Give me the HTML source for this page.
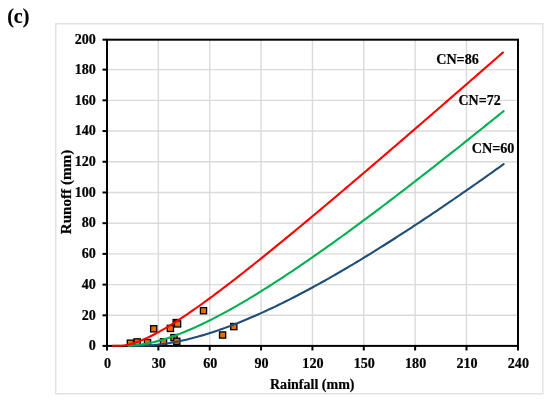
<!DOCTYPE html>
<html><head><meta charset="utf-8"><style>
html,body{margin:0;padding:0;background:#fff;}
body{width:550px;height:402px;overflow:hidden;}
svg{display:block;}
text{font-family:"Liberation Serif","Times New Roman",serif;font-weight:bold;fill:#000;stroke:#000;stroke-width:0.2px;}
</style></head><body>
<svg width="550" height="402" viewBox="0 0 550 402">
<rect x="0" y="0" width="550" height="402" fill="#fff"/>
<rect x="55.75" y="23.75" width="487" height="370" fill="none" stroke="#e2e2e2" stroke-width="1.5"/>
<text x="7.2" y="23.3" style="font-size:20px">(c)</text>
<g stroke="#dadada" stroke-width="1.4"><line x1="158.36" y1="39.8" x2="158.36" y2="345.8"/><line x1="209.71" y1="39.8" x2="209.71" y2="345.8"/><line x1="261.07" y1="39.8" x2="261.07" y2="345.8"/><line x1="312.43" y1="39.8" x2="312.43" y2="345.8"/><line x1="363.78" y1="39.8" x2="363.78" y2="345.8"/><line x1="415.14" y1="39.8" x2="415.14" y2="345.8"/><line x1="466.50" y1="39.8" x2="466.50" y2="345.8"/><line x1="107" y1="315.32" x2="518" y2="315.32"/><line x1="107" y1="284.61" x2="518" y2="284.61"/><line x1="107" y1="253.90" x2="518" y2="253.90"/><line x1="107" y1="223.18" x2="518" y2="223.18"/><line x1="107" y1="192.47" x2="518" y2="192.47"/><line x1="107" y1="161.76" x2="518" y2="161.76"/><line x1="107" y1="131.05" x2="518" y2="131.05"/><line x1="107" y1="100.34" x2="518" y2="100.34"/><line x1="107" y1="69.63" x2="518" y2="69.63"/></g>
<g stroke="#000" stroke-width="2"><line x1="107.00" y1="345.8" x2="107.00" y2="350.5"/><line x1="158.36" y1="345.8" x2="158.36" y2="350.5"/><line x1="209.71" y1="345.8" x2="209.71" y2="350.5"/><line x1="261.07" y1="345.8" x2="261.07" y2="350.5"/><line x1="312.43" y1="345.8" x2="312.43" y2="350.5"/><line x1="363.78" y1="345.8" x2="363.78" y2="350.5"/><line x1="415.14" y1="345.8" x2="415.14" y2="350.5"/><line x1="466.50" y1="345.8" x2="466.50" y2="350.5"/><line x1="518.00" y1="345.8" x2="518.00" y2="350.5"/><line x1="102.5" y1="345.90" x2="107" y2="345.90"/><line x1="102.5" y1="315.32" x2="107" y2="315.32"/><line x1="102.5" y1="284.61" x2="107" y2="284.61"/><line x1="102.5" y1="253.90" x2="107" y2="253.90"/><line x1="102.5" y1="223.18" x2="107" y2="223.18"/><line x1="102.5" y1="192.47" x2="107" y2="192.47"/><line x1="102.5" y1="161.76" x2="107" y2="161.76"/><line x1="102.5" y1="131.05" x2="107" y2="131.05"/><line x1="102.5" y1="100.34" x2="107" y2="100.34"/><line x1="102.5" y1="69.63" x2="107" y2="69.63"/><line x1="102.5" y1="39.70" x2="107" y2="39.70"/></g>
<rect x="107" y="39.7" width="411" height="306.2" fill="none" stroke="#000" stroke-width="2"/>
<g fill="#E46C0A" stroke="#000" stroke-width="1.3"><rect x="127.30" y="340.10" width="6.2" height="6.2"/><rect x="134.10" y="338.80" width="6.2" height="6.2"/><rect x="144.40" y="339.50" width="6.2" height="6.2"/><rect x="150.60" y="325.70" width="6.2" height="6.2"/><rect x="160.40" y="338.70" width="6.2" height="6.2"/><rect x="167.30" y="325.30" width="6.2" height="6.2"/><rect x="170.90" y="334.50" width="6.2" height="6.2"/><rect x="173.70" y="338.20" width="6.2" height="6.2"/><rect x="173.10" y="319.50" width="6.2" height="6.2"/><rect x="174.50" y="320.80" width="6.2" height="6.2"/><rect x="200.40" y="307.60" width="6.2" height="6.2"/><rect x="219.50" y="331.90" width="6.2" height="6.2"/><rect x="230.70" y="323.50" width="6.2" height="6.2"/></g>
<g fill="none" stroke-width="2.1" stroke-linejoin="round" stroke-linecap="round">
<path d="M128.24,345.80 L130.60,345.80 L132.96,345.80 L135.32,345.80 L137.68,345.80 L140.04,345.78 L142.40,345.73 L144.76,345.65 L147.12,345.54 L149.48,345.40 L151.84,345.22 L154.20,345.02 L156.57,344.78 L158.93,344.52 L161.29,344.23 L163.65,343.92 L166.01,343.57 L168.37,343.21 L170.73,342.81 L173.09,342.39 L175.45,341.95 L177.81,341.49 L180.17,341.00 L182.54,340.49 L184.90,339.95 L187.26,339.40 L189.62,338.82 L191.98,338.22 L194.34,337.60 L196.70,336.96 L199.06,336.31 L201.42,335.63 L203.78,334.93 L206.14,334.22 L208.50,333.49 L210.87,332.74 L213.23,331.97 L215.59,331.18 L217.95,330.38 L220.31,329.56 L222.67,328.73 L225.03,327.88 L227.39,327.01 L229.75,326.13 L232.11,325.24 L234.47,324.32 L236.84,323.40 L239.20,322.46 L241.56,321.51 L243.92,320.54 L246.28,319.56 L248.64,318.57 L251.00,317.56 L253.36,316.54 L255.72,315.51 L258.08,314.46 L260.44,313.41 L262.81,312.34 L265.17,311.26 L267.53,310.17 L269.89,309.06 L272.25,307.95 L274.61,306.83 L276.97,305.69 L279.33,304.54 L281.69,303.39 L284.05,302.22 L286.41,301.04 L288.77,299.86 L291.14,298.66 L293.50,297.45 L295.86,296.24 L298.22,295.01 L300.58,293.78 L302.94,292.53 L305.30,291.28 L307.66,290.02 L310.02,288.75 L312.38,287.47 L314.74,286.19 L317.11,284.89 L319.47,283.59 L321.83,282.28 L324.19,280.96 L326.55,279.64 L328.91,278.30 L331.27,276.96 L333.63,275.61 L335.99,274.25 L338.35,272.89 L340.71,271.52 L343.08,270.14 L345.44,268.76 L347.80,267.37 L350.16,265.97 L352.52,264.56 L354.88,263.15 L357.24,261.74 L359.60,260.31 L361.96,258.88 L364.32,257.45 L366.68,256.00 L369.04,254.55 L371.41,253.10 L373.77,251.64 L376.13,250.17 L378.49,248.70 L380.85,247.23 L383.21,245.74 L385.57,244.25 L387.93,242.76 L390.29,241.26 L392.65,239.76 L395.01,238.25 L397.38,236.73 L399.74,235.21 L402.10,233.69 L404.46,232.16 L406.82,230.62 L409.18,229.08 L411.54,227.54 L413.90,225.99 L416.26,224.44 L418.62,222.88 L420.98,221.32 L423.35,219.75 L425.71,218.18 L428.07,216.60 L430.43,215.02 L432.79,213.44 L435.15,211.85 L437.51,210.26 L439.87,208.66 L442.23,207.06 L444.59,205.46 L446.95,203.85 L449.31,202.23 L451.68,200.62 L454.04,199.00 L456.40,197.37 L458.76,195.75 L461.12,194.11 L463.48,192.48 L465.84,190.84 L468.20,189.20 L470.56,187.55 L472.92,185.90 L475.28,184.25 L477.65,182.59 L480.01,180.93 L482.37,179.27 L484.73,177.60 L487.09,175.93 L489.45,174.26 L491.81,172.59 L494.17,170.91 L496.53,169.22 L498.89,167.54 L501.25,165.85 L503.61,164.16" stroke="#1F4E79"/>
<path d="M128.24,345.75 L130.60,345.65 L132.96,345.50 L135.32,345.29 L137.68,345.03 L140.04,344.72 L142.40,344.37 L144.76,343.97 L147.12,343.53 L149.48,343.05 L151.84,342.53 L154.20,341.97 L156.57,341.37 L158.93,340.74 L161.29,340.07 L163.65,339.37 L166.01,338.64 L168.37,337.88 L170.73,337.09 L173.09,336.26 L175.45,335.41 L177.81,334.54 L180.17,333.63 L182.54,332.70 L184.90,331.75 L187.26,330.77 L189.62,329.77 L191.98,328.75 L194.34,327.70 L196.70,326.64 L199.06,325.55 L201.42,324.44 L203.78,323.32 L206.14,322.17 L208.50,321.01 L210.87,319.83 L213.23,318.63 L215.59,317.42 L217.95,316.19 L220.31,314.94 L222.67,313.68 L225.03,312.40 L227.39,311.11 L229.75,309.80 L232.11,308.49 L234.47,307.15 L236.84,305.81 L239.20,304.45 L241.56,303.07 L243.92,301.69 L246.28,300.29 L248.64,298.89 L251.00,297.47 L253.36,296.04 L255.72,294.60 L258.08,293.15 L260.44,291.68 L262.81,290.21 L265.17,288.73 L267.53,287.24 L269.89,285.74 L272.25,284.23 L274.61,282.71 L276.97,281.18 L279.33,279.65 L281.69,278.10 L284.05,276.55 L286.41,274.99 L288.77,273.42 L291.14,271.85 L293.50,270.26 L295.86,268.67 L298.22,267.07 L300.58,265.47 L302.94,263.86 L305.30,262.24 L307.66,260.61 L310.02,258.98 L312.38,257.34 L314.74,255.70 L317.11,254.05 L319.47,252.39 L321.83,250.73 L324.19,249.06 L326.55,247.38 L328.91,245.70 L331.27,244.02 L333.63,242.33 L335.99,240.63 L338.35,238.93 L340.71,237.23 L343.08,235.51 L345.44,233.80 L347.80,232.08 L350.16,230.35 L352.52,228.62 L354.88,226.89 L357.24,225.15 L359.60,223.41 L361.96,221.66 L364.32,219.91 L366.68,218.15 L369.04,216.39 L371.41,214.63 L373.77,212.86 L376.13,211.09 L378.49,209.31 L380.85,207.54 L383.21,205.75 L385.57,203.97 L387.93,202.18 L390.29,200.38 L392.65,198.59 L395.01,196.79 L397.38,194.98 L399.74,193.18 L402.10,191.36 L404.46,189.55 L406.82,187.74 L409.18,185.92 L411.54,184.09 L413.90,182.27 L416.26,180.44 L418.62,178.61 L420.98,176.77 L423.35,174.94 L425.71,173.10 L428.07,171.26 L430.43,169.41 L432.79,167.56 L435.15,165.71 L437.51,163.86 L439.87,162.00 L442.23,160.15 L444.59,158.29 L446.95,156.42 L449.31,154.56 L451.68,152.69 L454.04,150.82 L456.40,148.95 L458.76,147.08 L461.12,145.20 L463.48,143.32 L465.84,141.44 L468.20,139.56 L470.56,137.67 L472.92,135.78 L475.28,133.90 L477.65,132.00 L480.01,130.11 L482.37,128.22 L484.73,126.32 L487.09,124.42 L489.45,122.52 L491.81,120.62 L494.17,118.71 L496.53,116.81 L498.89,114.90 L501.25,112.99 L503.61,111.08" stroke="#00B050"/>
<path d="M112.82,345.80 L115.28,345.80 L117.73,345.80 L120.18,345.74 L122.64,345.53 L125.09,345.19 L127.54,344.73 L130.00,344.16 L132.45,343.50 L134.90,342.74 L137.36,341.90 L139.81,340.99 L142.26,340.01 L144.72,338.96 L147.17,337.85 L149.63,336.69 L152.08,335.48 L154.53,334.22 L156.99,332.92 L159.44,331.58 L161.89,330.20 L164.35,328.79 L166.80,327.34 L169.25,325.86 L171.71,324.35 L174.16,322.82 L176.61,321.26 L179.07,319.67 L181.52,318.06 L183.97,316.43 L186.43,314.78 L188.88,313.11 L191.33,311.42 L193.79,309.72 L196.24,308.00 L198.70,306.26 L201.15,304.51 L203.60,302.74 L206.06,300.96 L208.51,299.16 L210.96,297.36 L213.42,295.54 L215.87,293.71 L218.32,291.87 L220.78,290.02 L223.23,288.17 L225.68,286.30 L228.14,284.42 L230.59,282.53 L233.04,280.64 L235.50,278.74 L237.95,276.83 L240.40,274.91 L242.86,272.98 L245.31,271.05 L247.77,269.11 L250.22,267.17 L252.67,265.22 L255.13,263.26 L257.58,261.30 L260.03,259.34 L262.49,257.36 L264.94,255.39 L267.39,253.40 L269.85,251.42 L272.30,249.43 L274.75,247.43 L277.21,245.43 L279.66,243.43 L282.11,241.42 L284.57,239.41 L287.02,237.39 L289.47,235.37 L291.93,233.35 L294.38,231.32 L296.84,229.29 L299.29,227.26 L301.74,225.22 L304.20,223.18 L306.65,221.14 L309.10,219.10 L311.56,217.05 L314.01,215.00 L316.46,212.94 L318.92,210.89 L321.37,208.83 L323.82,206.77 L326.28,204.71 L328.73,202.64 L331.18,200.58 L333.64,198.51 L336.09,196.43 L338.55,194.36 L341.00,192.28 L343.45,190.21 L345.91,188.13 L348.36,186.05 L350.81,183.96 L353.27,181.88 L355.72,179.79 L358.17,177.70 L360.63,175.61 L363.08,173.52 L365.53,171.43 L367.99,169.33 L370.44,167.24 L372.89,165.14 L375.35,163.04 L377.80,160.94 L380.25,158.84 L382.71,156.73 L385.16,154.63 L387.62,152.52 L390.07,150.42 L392.52,148.31 L394.98,146.20 L397.43,144.09 L399.88,141.98 L402.34,139.86 L404.79,137.75 L407.24,135.63 L409.70,133.52 L412.15,131.40 L414.60,129.28 L417.06,127.16 L419.51,125.04 L421.96,122.92 L424.42,120.80 L426.87,118.68 L429.32,116.55 L431.78,114.43 L434.23,112.30 L436.69,110.18 L439.14,108.05 L441.59,105.92 L444.05,103.79 L446.50,101.66 L448.95,99.53 L451.41,97.40 L453.86,95.27 L456.31,93.14 L458.77,91.00 L461.22,88.87 L463.67,86.73 L466.13,84.60 L468.58,82.46 L471.03,80.32 L473.49,78.19 L475.94,76.05 L478.39,73.91 L480.85,71.77 L483.30,69.63 L485.76,67.49 L488.21,65.35 L490.66,63.21 L493.12,61.07 L495.57,58.92 L498.02,56.78 L500.48,54.64 L502.93,52.49" stroke="#FF0000"/>
</g>
<g style="font-size:14.1px"><text x="107.50" y="367.8" text-anchor="middle">0</text><text x="158.86" y="367.8" text-anchor="middle">30</text><text x="210.21" y="367.8" text-anchor="middle">60</text><text x="261.57" y="367.8" text-anchor="middle">90</text><text x="312.93" y="367.8" text-anchor="middle">120</text><text x="364.28" y="367.8" text-anchor="middle">150</text><text x="415.64" y="367.8" text-anchor="middle">180</text><text x="467.00" y="367.8" text-anchor="middle">210</text><text x="518.36" y="367.8" text-anchor="middle">240</text><text x="95.8" y="350.10" text-anchor="end">0</text><text x="95.8" y="319.52" text-anchor="end">20</text><text x="95.8" y="288.81" text-anchor="end">40</text><text x="95.8" y="258.10" text-anchor="end">60</text><text x="95.8" y="227.38" text-anchor="end">80</text><text x="95.8" y="196.67" text-anchor="end">100</text><text x="95.8" y="165.96" text-anchor="end">120</text><text x="95.8" y="135.25" text-anchor="end">140</text><text x="95.8" y="104.54" text-anchor="end">160</text><text x="95.8" y="73.83" text-anchor="end">180</text><text x="95.8" y="43.90" text-anchor="end">200</text></g>
<text x="270" y="388.6" style="font-size:14.3px" textLength="84.5" lengthAdjust="spacingAndGlyphs">Rainfall (mm)</text>
<text transform="translate(70.8,234.3) rotate(-90)" x="0" y="0" style="font-size:13.9px" textLength="84.5" lengthAdjust="spacingAndGlyphs">Runoff (mm)</text>
<g style="font-size:14.5px">
<text x="436.2" y="63.6" textLength="42.6" lengthAdjust="spacingAndGlyphs">CN=86</text>
<text x="458.5" y="104.6" textLength="42.2" lengthAdjust="spacingAndGlyphs">CN=72</text>
<text x="471.8" y="152.5" textLength="42.6" lengthAdjust="spacingAndGlyphs">CN=60</text>
</g>
</svg>
</body></html>
